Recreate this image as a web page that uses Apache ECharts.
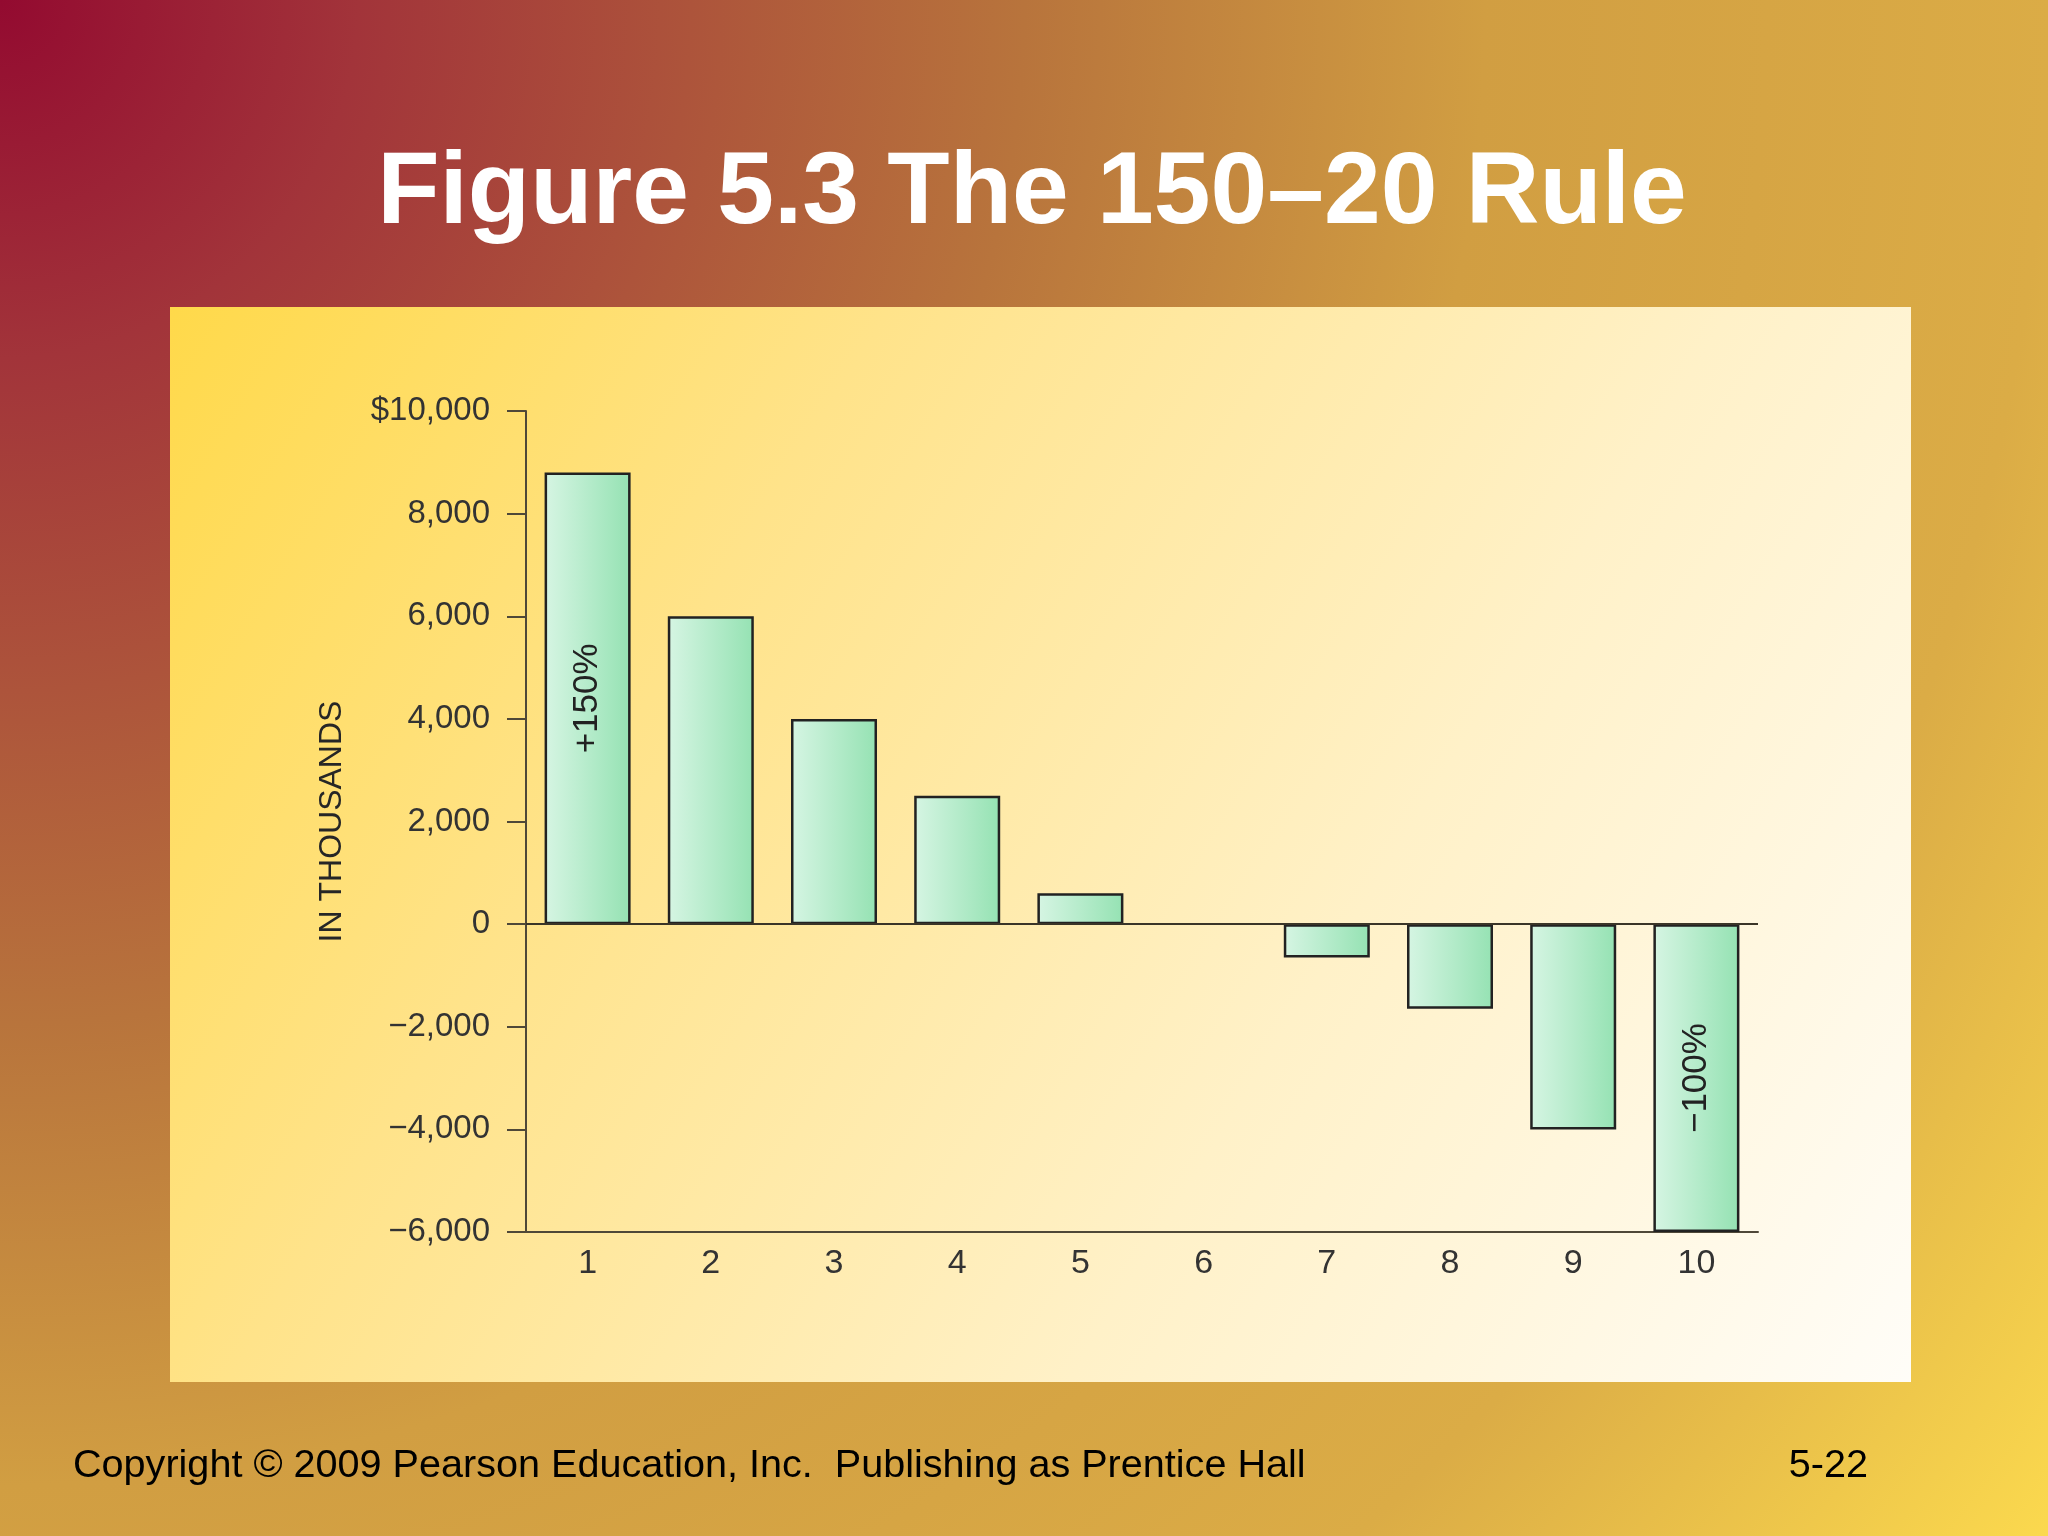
<!DOCTYPE html>
<html>
<head>
<meta charset="utf-8">
<script src="https://cdn.jsdelivr.net/npm/echarts@6/dist/echarts.min.js"></script>
<style>
html,body{margin:0;padding:0;background:#fff;}
#chart{width:2048px;height:1536px;}
</style>
</head>
<body>
<div id="chart"></div>
<script>
// ---- data ----
const categories = ['1','2','3','4','5','6','7','8','9','10'];
const values = [8800, 6000, 4000, 2500, 600, 0, -650, -1650, -4000, -6000];
const barLabels = ['+150%', '', '', '', '', '', '', '', '', '\u2212100%'];
const yTickValues = [-6000, -4000, -2000, 0, 2000, 4000, 6000, 8000, 10000];
const yTickLabels = ['\u22126,000', '\u22124,000', '\u22122,000', '0', '2,000', '4,000', '6,000', '8,000', '$10,000'];
const titleText = 'Figure 5.3 The 150\u201320 Rule';
const yAxisName = 'IN THOUSANDS';
const footerLeft = 'Copyright \u00a9 2009 Pearson Education, Inc.  Publishing as Prentice Hall';
const footerRight = '5-22';

const chart = echarts.init(document.getElementById('chart'));

const barFill = {
  type: 'linear', x: 0, y: 0, x2: 1, y2: 0,
  colorStops: [
    {offset: 0, color: '#d6f5e3'},
    {offset: 1, color: '#95e2b3'}
  ]
};

const seriesData = values.map((v, i) => ({
  value: v,
  itemStyle: v === 0 ? {borderWidth: 0} : undefined,
  label: barLabels[i] ? {show: true, formatter: barLabels[i]} : {show: false}
}));

const option = {
  animation: false,
  graphic: [
    {
      type: 'rect', z: -10, silent: true,
      shape: {x: 0, y: 0, width: 2048, height: 1536},
      style: {
        fill: {
          type: 'radial', x: 0, y: 0, r: 1.667,
          colorStops: [
            {offset: 0, color: '#930a30'},
            {offset: 0.14, color: '#a2343a'},
            {offset: 0.4, color: '#b8743c'},
            {offset: 0.58, color: '#d19e42'},
            {offset: 0.8, color: '#dbac46'},
            {offset: 1, color: '#fbd94e'}
          ]
        }
      }
    },
    {
      type: 'rect', z: -9, silent: true,
      shape: {x: 170, y: 307, width: 1741, height: 1075},
      style: {
        fill: {
          type: 'linear', x: 0, y: 0, x2: 1, y2: 1,
          colorStops: [
            {offset: 0, color: '#ffd94a'},
            {offset: 0.3, color: '#ffe38a'},
            {offset: 0.65, color: '#fff1c8'},
            {offset: 1, color: '#fffdf8'}
          ]
        }
      }
    },
    {
      type: 'text', z: 10, silent: true,
      x: 1032, y: 195,
      style: {
        text: titleText, fill: '#ffffff',
        font: 'bold 102px "Liberation Sans", Arial, sans-serif',
        align: 'center', verticalAlign: 'middle'
      }
    },
    {
      type: 'text', z: 10, silent: true,
      x: 73, y: 1466,
      style: {
        text: footerLeft, fill: '#000000',
        font: '39.6px "Liberation Sans", Arial, sans-serif',
        align: 'left', verticalAlign: 'middle'
      }
    },
    {
      type: 'text', z: 10, silent: true,
      x: 1868, y: 1466,
      style: {
        text: footerRight, fill: '#000000',
        font: '39.6px "Liberation Sans", Arial, sans-serif',
        align: 'right', verticalAlign: 'middle'
      }
    }
  ],
  grid: {left: 526, right: 290, top: 411, bottom: 304},
  xAxis: {
    type: 'category',
    data: categories,
    position: 'bottom',
    axisLine: {onZero: false, lineStyle: {color: '#4f4838', width: 2}},
    axisTick: {show: false},
    axisLabel: {
      color: '#333333', fontSize: 34, margin: 15,
      fontFamily: '"Liberation Sans", Arial, sans-serif'
    },
    splitLine: {show: false}
  },
  yAxis: {
    type: 'value',
    min: -6000, max: 10000, interval: 2000,
    name: yAxisName,
    nameLocation: 'middle',
    nameRotate: 90,
    nameGap: 178,
    nameTextStyle: {
      color: '#262626', fontSize: 32,
      fontFamily: '"Liberation Sans", Arial, sans-serif'
    },
    axisLine: {show: true, lineStyle: {color: '#4f4838', width: 2}},
    axisTick: {show: true, length: 19, lineStyle: {color: '#4f4838', width: 2}},
    axisLabel: {
      color: '#333333', fontSize: 33, margin: 36,
      fontFamily: '"Liberation Sans", Arial, sans-serif',
      formatter: function (v) {
        const idx = yTickValues.indexOf(v);
        return idx >= 0 ? yTickLabels[idx] : '';
      }
    },
    splitLine: {show: false}
  },
  series: [{
    type: 'bar',
    data: seriesData,
    barWidth: 86,
    itemStyle: {color: barFill, borderColor: '#222222', borderWidth: 2.5},
    label: {
      position: 'inside', rotate: 90, color: '#222222', fontSize: 35,
      fontFamily: '"Liberation Sans", Arial, sans-serif'
    },
    markLine: {
      silent: true, symbol: 'none',
      label: {show: false},
      lineStyle: {color: '#3a3528', width: 2, type: 'solid'},
      data: [{yAxis: 0}]
    }
  }]
};

chart.setOption(option);
</script>
</body>
</html>
